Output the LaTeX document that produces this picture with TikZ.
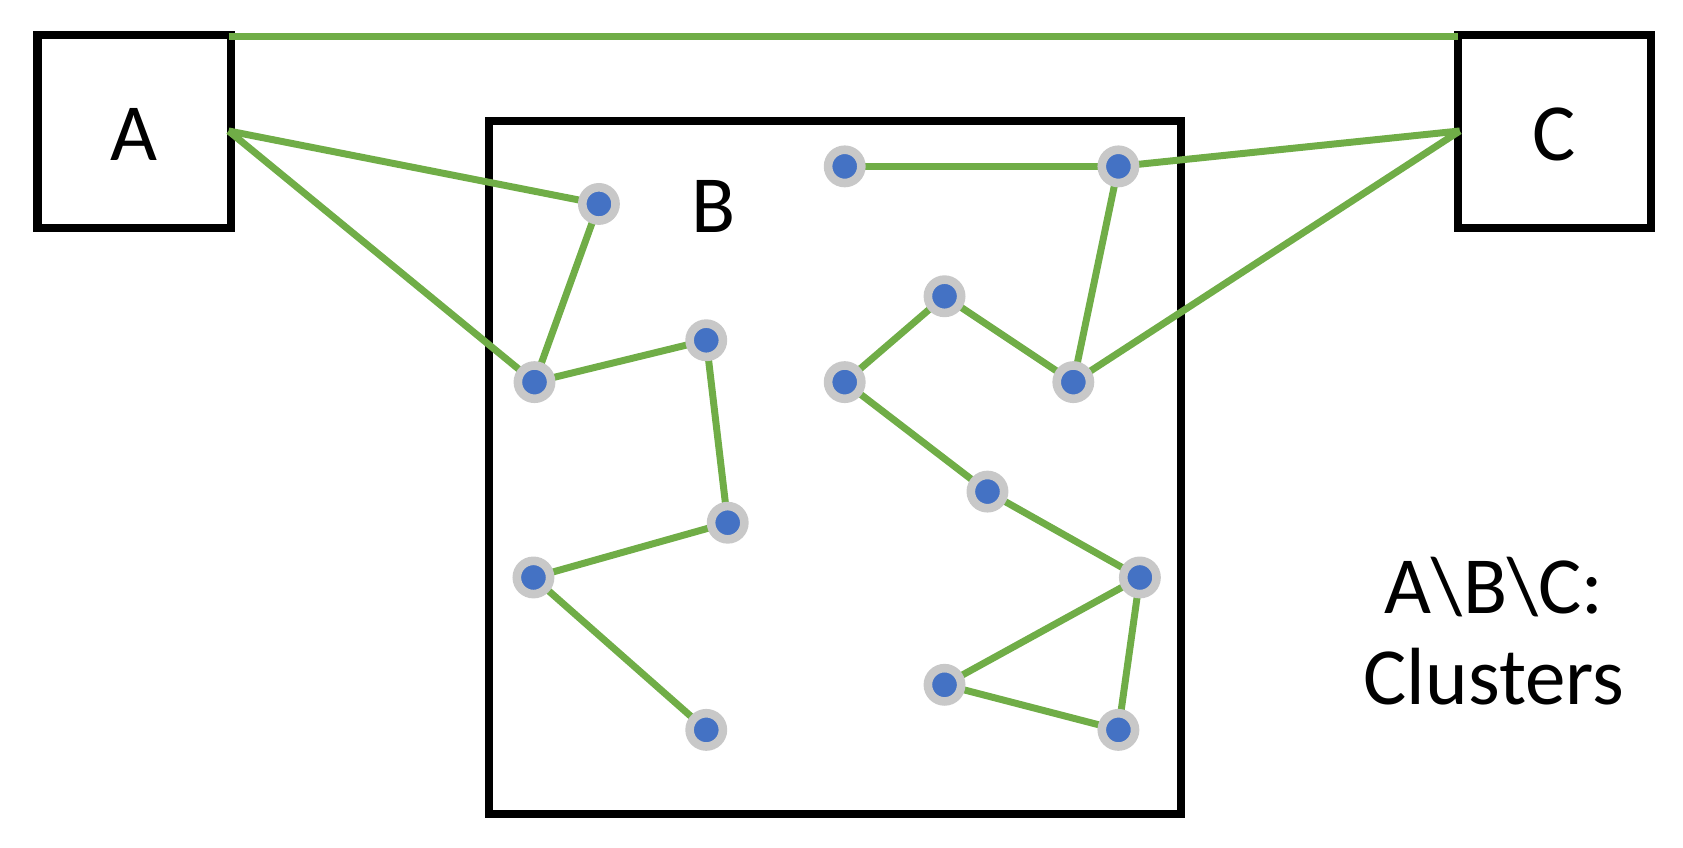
\documentclass[tikz,border=0pt]{standalone}
\usepackage{fontspec}
\setmainfont{Carlito}
\begin{document}
\begin{tikzpicture}[x=0.01cm,y=-0.01cm,
  box/.style={draw=black,line width=0.075cm,minimum width=1.8cm,minimum height=1.79cm,inner sep=0},
  edge/.style={color={rgb,255:red,112;green,173;blue,71},line width=0.065cm},
  dot/.style={circle,fill={rgb,255:red,68;green,114;blue,196},minimum size=0.31cm,inner sep=0,
    draw={rgb,255:red,200;green,200;blue,200},line width=0.08cm},
  lab/.style={font=\fontsize{21.5}{26}\selectfont}]
\useasboundingbox (0,0) rectangle (1568,790);
\node[box] (A) at (125,122.5) {};
\node[box] (C) at (1448,122.5) {};
\node[draw=black,line width=0.075cm,minimum width=6.44cm,minimum height=6.45cm,inner sep=0] (B) at (778,435.5) {};
\node[lab] at (125,125) {A};
\node[lab] at (1448,125) {C};
\node[lab] at (665,192) {B};
\node[lab,align=center] at (1392,588) {A\textbackslash B\textbackslash C:\\[-2pt]Clusters};
\coordinate (a) at (213,122);
\coordinate (c) at (1360,122);
\coordinate (at) at (213,34);
\coordinate (ct) at (1358,34);
\foreach \n/\x/\y in {d1/558/190,d2/498/356,d3/658/317,d4/678/487,d5/497/538,d6/658/680,
  d7/787/155,d8/1042/155,d9/880/276,d10/1000/356,d11/787/356,d12/920/458,d13/1062/538,d14/880/638,d15/1042/680}
  \coordinate (\n) at (\x,\y);
\begin{scope}[every path/.style={edge}]
\draw (at) -- (ct);
\draw (a) -- (d1); \draw (a) -- (d2); \draw (d1) -- (d2); \draw (d2) -- (d3);
\draw (d3) -- (d4); \draw (d4) -- (d5); \draw (d5) -- (d6);
\draw (d7) -- (d8); \draw (d8) -- (c); \draw (d8) -- (d10); \draw (c) -- (d10);
\draw (d9) -- (d10); \draw (d9) -- (d11); \draw (d11) -- (d12); \draw (d12) -- (d13);
\draw (d13) -- (d14); \draw (d13) -- (d15); \draw (d14) -- (d15);
\end{scope}
\foreach \n in {d1,d2,d3,d4,d5,d6,d7,d8,d9,d10,d11,d12,d13,d14,d15}
  \node[dot] (n\n) at (\n) {};
\end{tikzpicture}
\end{document}
